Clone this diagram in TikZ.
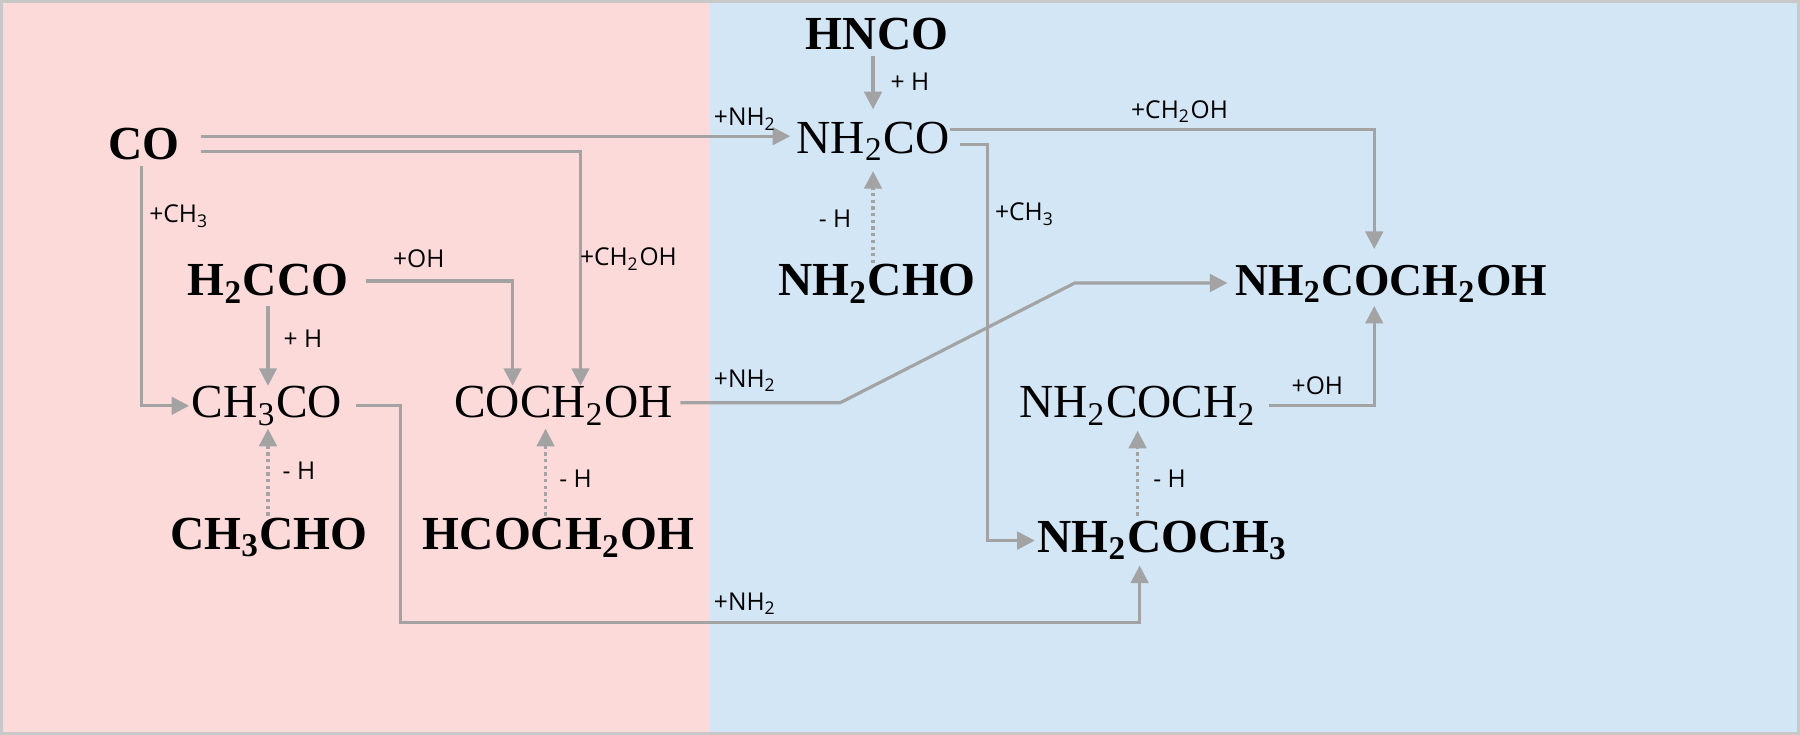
\documentclass[tikz,border=0pt]{standalone}
\usepackage{fontspec}
\setmainfont{Liberation Serif}
\newfontfamily\lblfont{Open Sans}
\usetikzlibrary{arrows.meta}
\definecolor{pinkbg}{HTML}{FCDADA}
\definecolor{bluebg}{HTML}{D2E6F5}
\definecolor{arr}{HTML}{A3A3A3}
\newcommand{\sub}[1]{\textsubscript{#1}}
\begin{document}
\begin{tikzpicture}[x=0.01cm,y=-0.01cm,
  mb/.style={font=\fontsize{13.5}{13.5}\selectfont\bfseries,inner sep=0pt},
  mr/.style={font=\fontsize{13.5}{13.5}\selectfont,inner sep=0pt},
  lbl/.style={font=\lblfont\fontsize{7}{7}\selectfont,inner sep=0pt},
  ar/.style={draw=arr,line width=0.9pt,-{Triangle[length=5pt,width=5pt]}},
  dar/.style={ar,densely dotted}]
\fill[pinkbg] (0,0) rectangle (710,733);
\fill[bluebg] (710,0) rectangle (1800,733);
\draw[arr!60,line width=0.8pt] (0,0) rectangle (1800,733);
\node[mb] (co) at (143,143) {CO};
\node[mb] (hnco) at (877,33) {HNCO};
\node[mr] (nh2co) at (873,140) {NH\sub{2}CO};
\node[mb] (nh2cho) at (877,283) {NH\sub{2}CHO};
\node[mb] (h2cco) at (267,283) {H\sub{2}CCO};
\node[mr] (coch2oh) at (563,405) {COCH\sub{2}OH};
\node[mr] (ch3co) at (266,405) {CH\sub{3}CO};
\node[mb] (ch3cho) at (268,537) {CH\sub{3}CHO};
\node[mb] (hcoch2oh) at (558,537) {HCOCH\sub{2}OH};
\node[mb,font=\fontsize{13}{13}\selectfont\bfseries] (big) at (1392,283) {NH\sub{2}COCH\sub{2}OH};
\node[mr] (nh2coch2) at (1138,405) {NH\sub{2}COCH\sub{2}};
\node[mb] (nh2coch3) at (1163,540) {NH\sub{2}COCH\sub{3}};
% arrows
\draw[ar] (200,135) -- (790,135);
\node[lbl] at (745,118) {+NH\sub{2}};
\draw[ar] (200,150) -| (580,385);
\node[lbl] at (628,258) {+CH\sub{2}OH};
\draw[ar] (140,165) |- (188,405);
\node[lbl] at (178,215) {+CH\sub{3}};
\draw[ar] (365,280) -| (512,385);
\node[lbl] at (418,258) {+OH};
\draw[ar] (267,305) -- (267,385);
\node[lbl] at (302,338) {+ H};
\draw[dar] (267,515) -- (267,428);
\node[lbl] at (298,470) {- H};
\draw[dar] (545,515) -- (545,428);
\node[lbl] at (575,478) {- H};
\draw[ar] (355,405) -- (400,405) -- (400,622) -| (1140,565);
\node[lbl] at (745,603) {+NH\sub{2}};
\draw[ar] (680,402) -- (840,402) -- (1075,282) -- (1228,282);
\node[lbl] at (745,380) {+NH\sub{2}};
\draw[ar] (873,55) -- (873,108);
\node[lbl] at (910,80) {+ H};
\draw[dar] (873,262) -- (873,170);
\node[lbl] at (835,218) {- H};
\draw[ar] (950,128) -| (1375,248);
\node[lbl] at (1180,110) {+CH\sub{2}OH};
\draw[ar] (960,143) -- (988,143) |- (1035,540);
\node[lbl] at (1025,213) {+CH\sub{3}};
\draw[ar] (1270,405) -| (1375,305);
\node[lbl] at (1318,385) {+OH};
\draw[dar] (1138,515) -- (1138,430);
\node[lbl] at (1170,478) {- H};
\end{tikzpicture}
\end{document}
